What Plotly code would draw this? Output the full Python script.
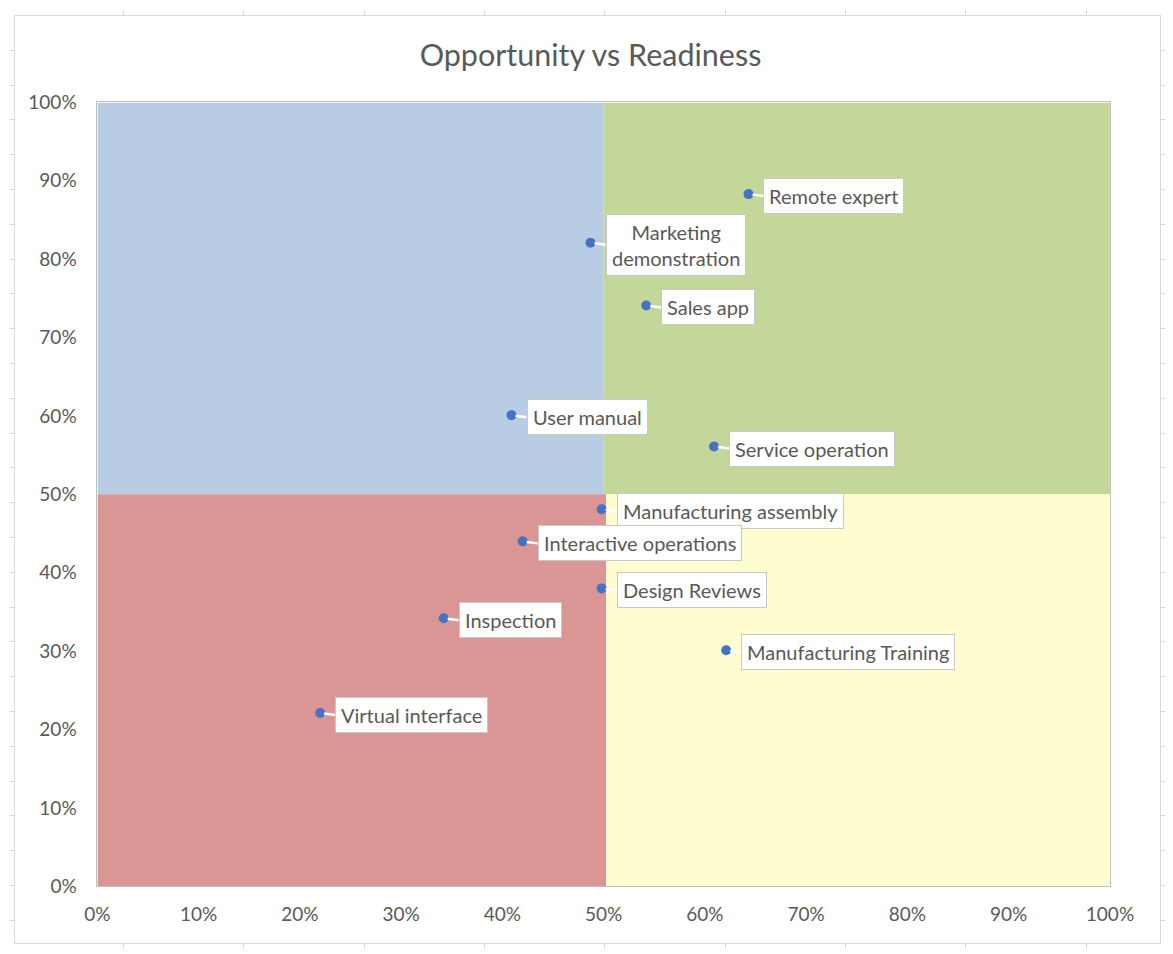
import plotly.graph_objects as go

# data points (opportunity on x, readiness on y)
names = [
    "Remote expert", "Marketing<br>demonstration", "Sales app", "User manual",
    "Service operation", "Manufacturing assembly", "Interactive operations",
    "Design Reviews", "Inspection", "Manufacturing Training", "Virtual interface",
]
opportunity = [0.643, 0.487, 0.542, 0.409, 0.609, 0.498, 0.420, 0.498, 0.342, 0.621, 0.220]
readiness = [0.883, 0.821, 0.741, 0.601, 0.561, 0.481, 0.440, 0.380, 0.342, 0.301, 0.221]

# quadrant split values
x_split = 0.5
x_split_low = 0.5025  # bottom-left block ends a touch further right
y_split = 0.5

tick_vals = [i / 10 for i in range(11)]

TEXT = "#595959"
FONT = "Lato"

fig = go.Figure()

# empty trace so the outer frame axes get drawn
fig.add_trace(go.Scatter(x=[None], y=[None], xaxis="x2", yaxis="y2",
                         mode="markers", hoverinfo="skip", showlegend=False))

fig.add_trace(go.Scatter(
    x=opportunity, y=readiness, mode="markers",
    marker=dict(color="#4472C4", size=10),
    hoverinfo="skip", showlegend=False,
))

# quadrant backgrounds
quads = [
    (0, x_split, y_split, 1, "#B8CCE4"),
    (x_split, 1, y_split, 1, "#C4D79B"),
    (0, x_split_low, 0, y_split, "#DA9694"),
    (x_split_low, 1, 0, y_split, "#FFFDD0"),
]
for x0, x1, y0, y1, col in quads:
    fig.add_shape(type="rect", xref="x", yref="y", x0=x0, x1=x1, y0=y0, y1=y1,
                  fillcolor=col, line=dict(width=0), layer="below")

# callout labels
for n, xv, yv in zip(names, opportunity, readiness):
    fig.add_annotation(
        x=xv, y=yv, xref="x", yref="y", text=n,
        showarrow=True, arrowhead=0, arrowwidth=2.5, arrowcolor="#ffffff",
        standoff=4, ax=15, ay=2, xanchor="left", yanchor="middle", align="center",
        bgcolor="#ffffff", bordercolor="#c8c8c8", borderwidth=1, borderpad=5,
        font=dict(family=FONT, size=20, color=TEXT),
    )

# page body adds 8px, so the figure is a bit smaller than the window
fig.update_layout(
    width=1165, height=946,
    margin=dict(l=6.5, r=13, t=7.6, b=11.3, autoexpand=False),
    paper_bgcolor="#ffffff", plot_bgcolor="rgba(0,0,0,0)",
    title=dict(text="Opportunity vs Readiness", x=0.5, xanchor="center",
               y=0.950, yanchor="middle",
               font=dict(family=FONT, size=30.5, color=TEXT)),
    xaxis=dict(domain=[0.0720, 0.9563], range=[0, 1], tickvals=tick_vals,
               tickformat=".0%", showgrid=False, zeroline=False,
               showline=True, mirror=True, linecolor="#c0c0c0", ticks="",
               ticklabelstandoff=11, automargin=False,
               tickfont=dict(family=FONT, size=19, color=TEXT), anchor="y"),
    yaxis=dict(domain=[0.0612, 0.9068], range=[0, 1], tickvals=tick_vals,
               tickformat=".0%", showgrid=False, zeroline=False,
               showline=True, mirror=True, linecolor="#c0c0c0", ticks="",
               ticklabelstandoff=16, automargin=False,
               tickfont=dict(family=FONT, size=19, color=TEXT), anchor="x"),
    # outer frame with small tick marks
    xaxis2=dict(domain=[0, 1], range=[0, 1], anchor="y2", tick0=0.0947, dtick=0.1051,
                showticklabels=False, showgrid=False, zeroline=False,
                showline=True, mirror="ticks", linecolor="#d9d9d9", automargin=False,
                ticks="outside", ticklen=5, tickcolor="#d9d9d9"),
    yaxis2=dict(domain=[0, 1], range=[0, 1], anchor="x2", tick0=0.0245, dtick=0.03754,
                showticklabels=False, showgrid=False, zeroline=False,
                showline=True, mirror="ticks", linecolor="#d9d9d9", automargin=False,
                ticks="outside", ticklen=5, tickcolor="#d9d9d9"),
)

fig.write_html("out.html")
